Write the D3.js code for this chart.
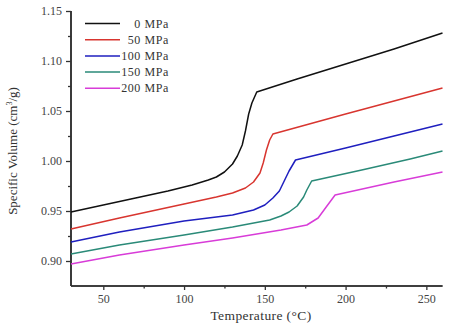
<!DOCTYPE html>
<html><head><meta charset="utf-8">
<script src="https://cdn.jsdelivr.net/npm/d3@7"></script>
<style>body{margin:0;background:#fff}svg{display:block}</style>
</head><body>
<script>
const seriesNames = ["0 MPa","50 MPa","100 MPa","150 MPa","200 MPa"];
const seriesColors = ["#111111","#d8352f","#1f1fbf","#2a8a78","#d83cd8"];
const s0 = [[30,0.949],[50,0.956],[70,0.963],[90,0.970],[105,0.976],[115,0.981],[120,0.984],[125,0.989],[130,0.997],[133,1.005],[136,1.016],[138,1.030],[140,1.047],[142,1.058],[145,1.069],[170,1.082],[200,1.097],[230,1.112],[260,1.128]];
const s50 = [[30,0.932],[60,0.943],[100,0.957],[120,0.964],[130,0.968],[138,0.973],[143,0.979],[147,0.988],[149,0.998],[151,1.011],[153,1.021],[155,1.027],[200,1.047],[260,1.073]];
const s100 = [[30,0.919],[60,0.929],[100,0.940],[130,0.946],[143,0.951],[150,0.956],[155,0.963],[159,0.970],[162,0.980],[165,0.990],[169,1.001],[200,1.013],[230,1.025],[260,1.037]];
const s150 = [[30,0.907],[60,0.916],[100,0.926],[130,0.934],[153,0.941],[160,0.945],[165,0.949],[170,0.955],[174,0.964],[176,0.971],[179,0.980],[210,0.991],[240,1.002],[260,1.010]];
const s200 = [[30,0.897],[60,0.906],[100,0.916],[130,0.923],[160,0.931],[176,0.936],[183,0.943],[188,0.954],[193.5,0.966],[230,0.979],[260,0.989]];
const allSeries = [s0,s50,s100,s150,s200];
const xTicks = [50,100,150,200,250];
const xMinor = [75,125,175,225];
const yTicks = [0.90,0.95,1.00,1.05,1.10,1.15];
const yMinor = [0.925,0.975,1.025,1.075,1.125];

const W=474,H=326;
const svg=d3.select("body").append("svg").attr("width",W).attr("height",H);
const x=d3.scaleLinear().domain([30,260]).range([71,442.5]);
const y=d3.scaleLinear().domain([0.875,1.15]).range([286,11]);
const font="'Liberation Serif','DejaVu Serif',serif";
const axCol="#333";

// axes
const gx=svg.append("g").attr("transform","translate(0,286)");
gx.call(d3.axisBottom(x).tickValues(xTicks).tickSize(4).tickPadding(4).tickFormat(d3.format("d")));
gx.append("g").call(d3.axisBottom(x).tickValues(xMinor).tickSize(2.5).tickFormat(""));
const gy=svg.append("g").attr("transform","translate(71,0)");
gy.call(d3.axisLeft(y).tickValues(yTicks).tickSize(5).tickPadding(4).tickFormat(d3.format(".2f")));
gy.append("g").call(d3.axisLeft(y).tickValues(yMinor).tickSize(3).tickFormat(""));
svg.selectAll(".domain").attr("stroke",axCol).attr("stroke-width",1.6);
svg.selectAll(".tick line").attr("stroke",axCol).attr("stroke-width",1.3);
svg.selectAll("g.tick text").attr("font-family",font).attr("font-size",12).attr("fill","#444");
gx.selectAll(".domain").attr("d",`M${x(30)},0H${x(260)}`);
gy.selectAll(".domain").attr("d",`M0,${y(0.875)}V${y(1.15)}`);

// lines
const line=d3.line().x(d=>x(d[0])).y(d=>y(d[1]));
allSeries.forEach((s,i)=>{
  svg.append("path").datum(s).attr("d",line).attr("fill","none")
    .attr("stroke",seriesColors[i]).attr("stroke-width",1.5).attr("stroke-linejoin","round");
});

// legend
const lg=svg.append("g");
seriesNames.forEach((n,i)=>{
  const yy=23.5+i*16.2;
  lg.append("line").attr("x1",85).attr("x2",120).attr("y1",yy).attr("y2",yy)
    .attr("stroke",seriesColors[i]).attr("stroke-width",1.5);
  lg.append("text").attr("x",169).attr("y",yy+4).attr("text-anchor","end")
    .attr("font-family",font).attr("font-size",12).attr("letter-spacing",0.6).attr("fill","#333").text(n);
});

// axis titles
svg.append("text").attr("x",261).attr("y",320).attr("text-anchor","middle")
  .attr("font-family",font).attr("font-size",13.5).attr("letter-spacing",0.4).attr("fill","#333").text("Temperature (°C)");
const yt=svg.append("text").attr("transform","translate(17,151) rotate(-90)").attr("text-anchor","middle")
  .attr("font-family",font).attr("font-size",13).attr("fill","#333");
yt.append("tspan").text("Specific Volume (cm");
yt.append("tspan").attr("dy",-5).attr("font-size",8).text("3");
yt.append("tspan").attr("dy",5).text("/g)");
</script>
</body></html>
